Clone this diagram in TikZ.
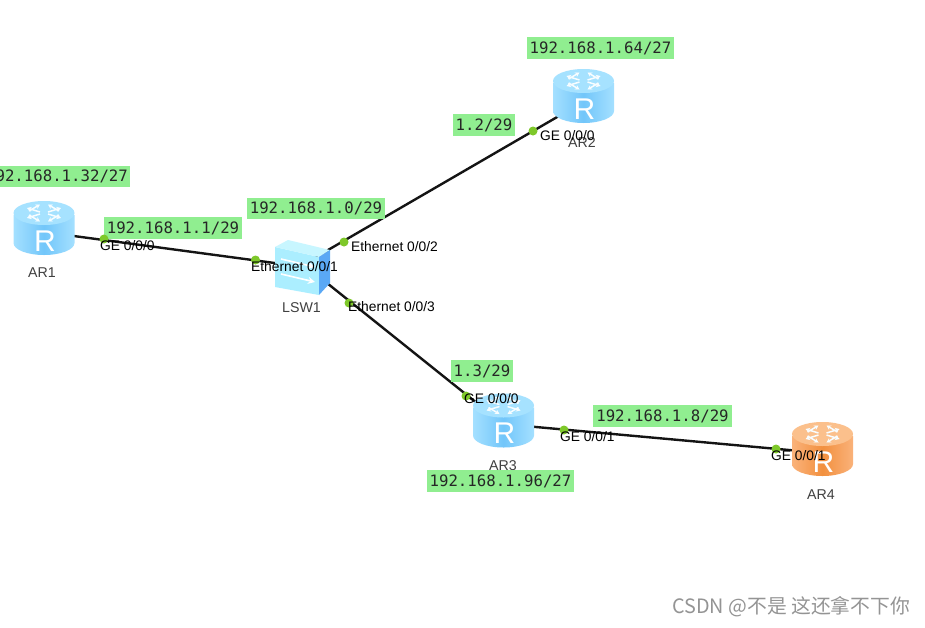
\documentclass[tikz,border=0pt]{standalone}
\usepackage{fontspec}
\setmainfont{Liberation Sans}
\newfontfamily\labelmono{DejaVu Sans Mono}
\newfontfamily\cjkmark{Noto Sans CJK SC}
\usetikzlibrary{arrows.meta}
\definecolor{labelgreen}{HTML}{90EE90}
\definecolor{dotgreen}{HTML}{7EC82A}
\definecolor{linkblack}{HTML}{141414}
\definecolor{bluetop}{HTML}{A6E2FF}
\definecolor{blueedge}{HTML}{A4E0FF}
\definecolor{bluemid}{HTML}{72C6FA}
\definecolor{orangetop}{HTML}{FBC08C}
\definecolor{orangeedge}{HTML}{FAB27A}
\definecolor{orangemid}{HTML}{F2903F}
\definecolor{swfront}{HTML}{ABEEFF}
\definecolor{swtop}{HTML}{C8F6FF}
\definecolor{swside}{HTML}{5AA8F5}
\tikzset{
  x=1pt, y=-1pt,
  anchorbox/.style={inner sep=0pt, minimum width=61pt, minimum height=54pt},
  addr/.style={fill=labelgreen, inner sep=0pt, minimum height=21.5pt, text=black!85,
     font=\labelmono\fontsize{15.7}{18}\selectfont},
  port/.style={anchor=west, inner sep=0pt, text=black, font=\fontsize{13.8}{15}\selectfont},
  devname/.style={inner sep=0pt, text=black!75, font=\fontsize{14.2}{16}\selectfont},
  portdot/.style={circle, fill=dotgreen, inner sep=0pt, minimum size=9pt},
  link/.style={draw=linkblack, line width=2.4pt},
  iconarrow/.style={draw=white!92!bluetop, line width=1.5pt, -{Stealth[length=4.5pt,width=5pt]}},
  rletter/.style={inner sep=0pt, text=white, font=\fontsize{30}{32}\selectfont},
}
\newcommand{\routericon}[5]{%
  \begin{scope}[shift={(#1,#2)}]
    \path[left color=#4, right color=#4, middle color=#5]
      (-30.5,-13) -- (-30.5,15) arc[start angle=180,end angle=0,x radius=30.5,y radius=12] -- (30.5,-13) -- cycle;
    \fill[#3] (0,-15) ellipse[x radius=30.5,y radius=12];
    \foreach \s/\t in {1/1,1/-1,-1/1,-1/-1}{
      \draw[iconarrow] (\s*4,\t*1-15) -- (\s*17,\t*5-15);
      \draw[iconarrow] (\s*15,\t*2-15) -- (\s*4,\t*8.5-15);
    }
    \node[rletter] at (1,13) {R};
  \end{scope}}
\begin{document}
\begin{tikzpicture}
\useasboundingbox (0,0) rectangle (925,627);
\clip (0,0) rectangle (925,627);
\fill[white] (0,0) rectangle (925,627);
% device anchors
\node[anchorbox] (AR1) at (44,232) {};
\node[anchorbox] (AR2) at (583,102) {};
\node[anchorbox] (AR3) at (503,424) {};
\node[anchorbox] (AR4) at (822,453) {};
\node[inner sep=0pt, minimum width=56pt, minimum height=56pt] (LSW1) at (297,266) {};
\coordinate (SWa) at (297,268);
\coordinate (SWb) at (297,259);
% links
\draw[link] (AR1.center) -- (LSW1.center);
\draw[link] (SWa) -- (AR2.center);
\draw[link] (SWb) -- (AR3.center);
\draw[link] (AR3.center) -- (AR4.center);
% routers
\routericon{44}{228}{bluetop}{blueedge}{bluemid}
\routericon{583.5}{96}{bluetop}{blueedge}{bluemid}
\routericon{503.5}{420.5}{bluetop}{blueedge}{bluemid}
\routericon{822.5}{449}{orangetop}{orangeedge}{orangemid}
% switch
\fill[swfront] (275,247) -- (319,257) -- (319,295) -- (275,287) -- cycle;
\fill[swtop] (275,247) -- (288,240) -- (330,250) -- (319,257) -- cycle;
\fill[swside] (319,257) -- (330,250) -- (330,283) -- (319,295) -- cycle;
\draw[white,line width=1.6pt,-{Stealth[length=7pt,width=7pt]}] (281,259) -- (315,267);
\draw[white,line width=1.6pt,-{Stealth[length=7pt,width=7pt]}] (281,274) -- (315,282);
% device names
\node[devname] (nAR1) at (42,272.5) {AR1};
\node[devname] (nAR2) at (582,143) {AR2};
\node[devname] (nAR3) at (503,466) {AR3};
\node[devname] (nAR4) at (821,494.5) {AR4};
\node[devname] (nLSW1) at (301.5,308) {LSW1};
% address labels
\node[addr,minimum width=146pt] (a1) at (57,176.5) {192.168.1.32/27};
\node[addr,minimum width=147pt] (a2) at (600.5,48) {192.168.1.64/27};
\node[addr,minimum width=62pt] (a3) at (484,125) {1.2/29};
\node[addr,minimum width=138pt] (a4) at (316,208.5) {192.168.1.0/29};
\node[addr,minimum width=138pt] (a5) at (173,228) {192.168.1.1/29};
\node[addr,minimum width=62pt] (a6) at (482,371) {1.3/29};
\node[addr,minimum width=147pt] (a7) at (500.5,481) {192.168.1.96/27};
\node[addr,minimum width=139pt] (a8) at (662.5,416) {192.168.1.8/29};
% port dots
\node[portdot] (d1) at (104,239) {};
\node[portdot] (d2) at (255.5,260) {};
\node[portdot] (d3) at (344,242) {};
\node[portdot] (d4) at (349,303) {};
\node[portdot] (d5) at (533,131) {};
\node[portdot] (d6) at (466,396) {};
\node[portdot] (d7) at (564,430) {};
\node[portdot] (d8) at (776,449) {};
% port labels
\node[port] (p1) at (100,245.5) {GE 0/0/0};
\node[port] (p2) at (251,266.5) {Ethernet 0/0/1};
\node[port] (p3) at (351,246.5) {Ethernet 0/0/2};
\node[port] (p4) at (348,306.5) {Ethernet 0/0/3};
\node[port] (p5) at (540,135.5) {GE 0/0/0};
\node[port] (p6) at (464,398.5) {GE 0/0/0};
\node[port] (p7) at (560,436.5) {GE 0/0/1};
\node[port] (p8) at (771,455.5) {GE 0/0/1};
% watermark
\node[anchor=west, inner sep=0pt, text=black!42, font=\cjkmark\fontsize{19.8}{22}\selectfont] (mark) at (672,607) {CSDN @不是 这还拿不下你};
\end{tikzpicture}
\end{document}
